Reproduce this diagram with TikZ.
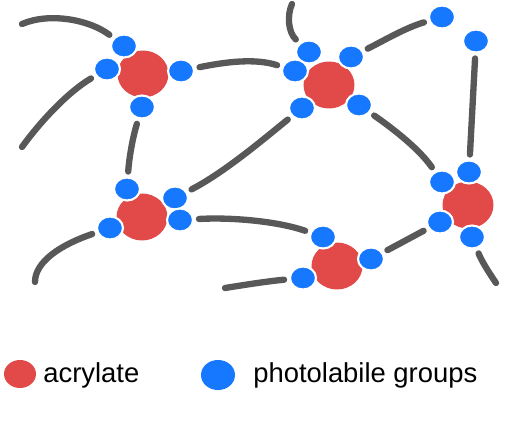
\documentclass[tikz,border=0pt]{standalone}
\usepackage{fontspec}
\setmainfont{Liberation Sans}
\usetikzlibrary{shapes.geometric,backgrounds}
\definecolor{acrred}{HTML}{E24A4A}
\definecolor{grpblue}{HTML}{1677FF}
\definecolor{chain}{HTML}{585858}

\begin{document}
\begin{tikzpicture}[x=0.02cm,y=-0.02cm,
    acr/.style={ellipse, fill=acrred, minimum width=1.02cm, minimum height=0.94cm, inner sep=0},
    pgrp/.style={ellipse, fill=grpblue, draw=white, line width=1.2pt, minimum width=0.52cm, minimum height=0.46cm, inner sep=0, outer sep=0.12cm},
    link/.style={draw=chain, line width=3.6pt, line cap=round},
    lbl/.style={anchor=base west, inner sep=0, font=\fontsize{15.6}{18}\selectfont}]

    \useasboundingbox (0,0) rectangle (512,426);

    % acrylate cores
    \node[acr] (a1) at (143,74) {};
    \node[acr] (a2) at (329,85) {};
    \node[acr] (a3) at (142,217) {};
    \node[acr] (a4) at (468,205) {};
    \node[acr] (a5) at (337,266) {};

    % photolabile groups
    \node[pgrp] (p1a) at (124,46) {};
    \node[pgrp] (p1b) at (107,69) {};
    \node[pgrp] (p1c) at (181,71) {};
    \node[pgrp] (p1d) at (142,107) {};

    \node[pgrp] (p2a) at (309,52) {};
    \node[pgrp] (p2b) at (295,71) {};
    \node[pgrp] (p2c) at (351,57) {};
    \node[pgrp] (p2d) at (302,108) {};
    \node[pgrp] (p2e) at (359,105) {};

    \node[pgrp] (p6) at (442,17) {};
    \node[pgrp] (p7) at (476,41) {};

    \node[pgrp] (p3a) at (127,189) {};
    \node[pgrp] (p3b) at (110,228) {};
    \node[pgrp] (p3c) at (175,198) {};
    \node[pgrp] (p3d) at (180,220) {};

    \node[pgrp] (p4a) at (469,172) {};
    \node[pgrp] (p4b) at (442,182) {};
    \node[pgrp] (p4c) at (440,222) {};
    \node[pgrp] (p4d) at (472,237) {};

    \node[pgrp] (p5a) at (323,237) {};
    \node[pgrp] (p5b) at (371,259) {};
    \node[pgrp] (p5c) at (303,278) {};

    % loose chain ends
    \coordinate (e1) at (22,24);
    \coordinate (e2) at (22,147);
    \coordinate (e3) at (292,4);
    \coordinate (e4) at (35,282);
    \coordinate (e5) at (225,288);
    \coordinate (e6) at (496,283);

    \begin{pgfonlayer}{background}
    \draw[link] (e1) .. controls (50,12) and (90,20) .. (p1a);
    \draw[link] (e2) .. controls (40,122) and (68,92) .. (p1b);
    \draw[link] (p1c) .. controls (225,62) and (255,58) .. (p2b);
    \draw[link] (p1d) .. controls (132,140) and (129,160) .. (p3a);
    \draw[link] (e3) .. controls (287,15) and (288,32) .. (p2a);
    \draw[link] (p2c) .. controls (385,40) and (405,28) .. (p6);
    \draw[link] (p7) -- (p4a);
    \draw[link] (p2e) .. controls (395,130) and (420,150) .. (p4b);
    \draw[link] (p2d) .. controls (265,138) and (225,172) .. (p3c);
    \draw[link] (p3d) .. controls (235,217) and (280,222) .. (p5a);
    \draw[link] (p3b) .. controls (60,245) and (35,262) .. (e4);
    \draw[link] (e5) .. controls (250,284) and (270,281) .. (p5c);
    \draw[link] (p5b) -- (p4c);
    \draw[link] (p4d) .. controls (482,262) and (490,274) .. (e6);
    \end{pgfonlayer}

    % legend
    \node[acr, minimum width=0.64cm, minimum height=0.56cm] (kacr) at (20,374) {};
    \node[lbl] (tacr) at (43,383) {acrylate};
    \node[ellipse, fill=grpblue, minimum width=0.68cm, minimum height=0.6cm, inner sep=0] (kgrp) at (218,375) {};
    \node[lbl] (tgrp) at (253,383) {photolabile groups};

\end{tikzpicture}
\end{document}
